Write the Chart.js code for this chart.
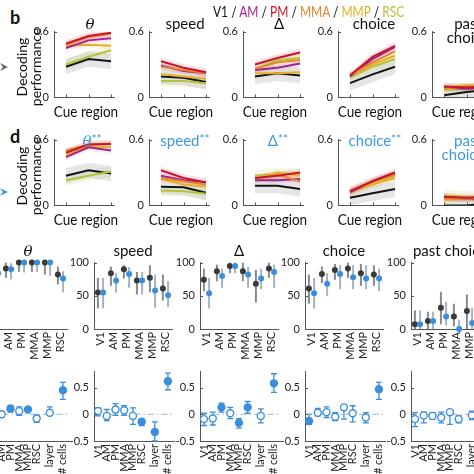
<!DOCTYPE html>
<html>
<head>
<meta charset="utf-8">
<script src="https://cdn.jsdelivr.net/npm/chart.js"></script>
<style>
  body { margin: 0; background: #fff; }
  #fig { position: relative; width: 474px; height: 474px; overflow: hidden; font-family: Lato, sans-serif; color: #111; }
  #fig canvas { position: absolute; }
  .t { position: absolute; white-space: pre; font-size: 14px; line-height: 14px; transform: translateX(-50%); text-align: center; }
  .star { font-size: 12px; vertical-align: top; line-height: 12px; }
  .th { font-family: "DejaVu Serif", serif; font-style: italic; }
</style>
</head>
<body>
<div id="fig"></div>
<script>
// areas and colours
const areas = ['V1', 'AM', 'PM', 'MMA', 'MMP', 'RSC'];
const areaColors = ['#141414', '#a3238f', '#c8152d', '#e8842c', '#e3b12a', '#b4c23c'];
const bandColors = ['rgba(140,140,140,0.22)', 'rgba(200,80,170,0.12)', 'rgba(230,90,100,0.16)',
                    'rgba(240,150,80,0.12)', 'rgba(235,190,80,0.12)', 'rgba(190,200,90,0.15)'];
const bandHalf = [0.07, 0.03, 0.035, 0.03, 0.03, 0.05];
const cuePos = [0, 1, 2];

// panel b: decoding performance along cue region, rows = V1, AM, PM, MMA, MMP, RSC
const bTheta = [[0.28, 0.35, 0.33], [0.45, 0.52, 0.54], [0.49, 0.56, 0.59], [0.48, 0.55, 0.58], [0.47, 0.48, 0.47], [0.30, 0.37, 0.43]];
const bSpeed = [[0.19, 0.18, 0.14], [0.29, 0.24, 0.22], [0.33, 0.27, 0.23], [0.28, 0.25, 0.22], [0.21, 0.19, 0.17], [0.15, 0.15, 0.13]];
const bDelta = [[0.19, 0.22, 0.20], [0.25, 0.27, 0.31], [0.30, 0.36, 0.41], [0.26, 0.32, 0.34], [0.22, 0.22, 0.23], [0.26, 0.34, 0.36]];
const bChoice = [[0.13, 0.21, 0.28], [0.19, 0.35, 0.46], [0.20, 0.37, 0.47], [0.20, 0.32, 0.42], [0.19, 0.30, 0.38], [0.18, 0.28, 0.35]];
const bPast = [[0.02, 0.05, 0.07], [0.09, 0.08, 0.09], [0.10, 0.09, 0.10], [0.08, 0.10, 0.10], [0.09, 0.11, 0.10], [0.07, 0.08, 0.09]];

// panel d
const dTheta = [[0.27, 0.32, 0.29], [0.44, 0.53, 0.50], [0.48, 0.555, 0.56], [0.50, 0.555, 0.565], [0.46, 0.54, 0.53], [0.23, 0.27, 0.31]];
const dSpeed = [[0.17, 0.165, 0.115], [0.27, 0.23, 0.21], [0.32, 0.25, 0.21], [0.25, 0.22, 0.19], [0.24, 0.19, 0.17], [0.135, 0.128, 0.107]];
const dDelta = [[0.18, 0.18, 0.15], [0.23, 0.23, 0.24], [0.25, 0.27, 0.30], [0.245, 0.28, 0.22], [0.24, 0.30, 0.27], [0.27, 0.29, 0.29]];
const dChoice = [[0.07, 0.11, 0.15], [0.12, 0.22, 0.295], [0.13, 0.22, 0.30], [0.135, 0.215, 0.28], [0.12, 0.19, 0.25], [0.125, 0.21, 0.27]];
const dPast = [[0.0, 0.0, 0.02], [0.07, 0.06, 0.05], [0.08, 0.07, 0.08], [0.06, 0.06, 0.07], [0.05, 0.06, 0.06], [0.09, 0.08, 0.08]];

// third row: [value, low, high] per area, dark and blue series
const accThetaDark = [[88, 70, 100], [91, 77, 100], [100, 86, 100], [100, 86, 100], [100, 82, 100], [82, 67, 94]];
const accThetaBlue = [[84, 65, 98], [90, 75, 99], [100, 85, 100], [100, 86, 100], [100, 80, 100], [76, 55, 87]];
const accSpeedDark = [[55, 31, 77], [84, 65, 94], [90, 76, 96], [73, 52, 86], [77, 55, 96], [61, 43, 82]];
const accSpeedBlue = [[55, 31, 77], [73, 55, 84], [83, 62, 93], [73, 52, 86], [58, 32, 82], [51, 33, 72]];
const accDeltaDark = [[74, 57, 91], [87, 72, 97], [95, 84, 100], [87, 72, 100], [68, 40, 89], [91, 77, 100]];
const accDeltaBlue = [[54, 31, 77], [80, 62, 91], [95, 84, 100], [82, 62, 94], [76, 60, 91], [86, 62, 97]];
const accChoiceDark = [[61, 38, 82], [83, 69, 94], [89, 74, 98], [91, 77, 100], [84, 65, 98], [82, 65, 96]];
const accChoiceBlue = [[54, 31, 77], [68, 50, 84], [83, 60, 96], [78, 60, 96], [76, 60, 96], [76, 57, 91]];
const accPastDark = [[7, 0, 28], [12, 0, 26], [32, 7, 56], [19, 4, 38], [27, 0, 52], [20, 0, 40]];
const accPastBlue = [[7, 0, 28], [12, 0, 26], [19, 5, 41], [0, 0, 14], [9, 0, 32], [10, 0, 30]];

// bottom row: [value, low, high]; sig = filled marker
const weightCats = ['V1', 'AM', 'PM', 'MMA', 'MMP', 'RSC', 'layer', '# cells'];
const weightPos = [0, 1, 2, 3, 4, 5, 6.5, 8];
const wTheta = [[0.02, -0.05, 0.09], [0.0, -0.05, 0.05], [0.105, 0.045, 0.165], [0.06, -0.02, 0.14], [0.09, 0.06, 0.12], [-0.08, -0.15, -0.01], [0.03, -0.02, 0.14], [0.45, 0.28, 0.6]];
const wThetaSig = [0, 0, 1, 0, 1, 0, 0, 1];
const wSpeed = [[0.06, -0.03, 0.12], [-0.03, -0.12, 0.09], [0.09, -0.02, 0.2], [0.075, -0.02, 0.16], [-0.03, -0.19, 0.12], [-0.14, -0.21, -0.09], [-0.33, -0.5, -0.14], [0.62, 0.46, 0.77]];
const wSpeedSig = [0, 0, 0, 0, 0, 1, 1, 1];
const wDelta = [[-0.09, -0.21, 0.02], [-0.08, -0.2, 0.04], [0.13, 0.04, 0.21], [0.02, -0.08, 0.13], [-0.16, -0.26, -0.08], [0.13, 0.02, 0.24], [-0.03, -0.16, 0.1], [0.58, 0.41, 0.76]];
const wDeltaSig = [0, 0, 1, 0, 1, 1, 0, 1];
const wChoice = [[-0.125, -0.19, 0], [0.03, -0.03, 0.11], [0.04, -0.06, 0.14], [-0.045, -0.12, 0.03], [0.13, -0.09, 0.17], [0.02, -0.14, 0.16], [-0.06, -0.16, 0.03], [0.47, 0.28, 0.6]];
const wChoiceSig = [1, 0, 0, 0, 0, 0, 0, 1];
const wPast = [[-0.09, -0.23, 0.03], [-0.02, -0.16, 0.04], [-0.03, -0.09, 0.03], [-0.06, -0.16, 0.04], [0.04, -0.19, 0.08], [-0.09, -0.16, -0.03], [-0.02, -0.1, 0.06], [0.1, 0, 0.2]];
const wPastSig = [0, 0, 0, 0, 0, 0, 0, 0];

const axisColor = '#555';
const blue = '#3b8ede';
const tickFont = { family: 'Lato', size: 11 };
Chart.defaults.font.family = 'Lato';

const fig = document.getElementById('fig');

function makeCanvas(left, top, w, h) {
  const c = document.createElement('canvas');
  c.width = w; c.height = h;
  c.style.left = left + 'px'; c.style.top = top + 'px';
  c.style.width = w + 'px'; c.style.height = h + 'px';
  fig.appendChild(c);
  return c;
}

function addText(html, x, y, css) {
  const d = document.createElement('div');
  d.className = 't';
  d.innerHTML = html;
  d.style.left = x + 'px';
  d.style.top = y + 'px';
  Object.assign(d.style, css || {});
  fig.appendChild(d);
  return d;
}

// squeeze a label to the width it has in the figure (the original font is narrower)
function fitWidth(d, w, origin) {
  const s = w / d.offsetWidth;
  d.style.transformOrigin = origin;
  d.style.transform = (origin === 'left center' ? '' : 'translateX(-50%) ') + 'scaleX(' + s + ')';
}

// small inward tick marks like the matlab axes
const inTicks = {
  id: 'inTicks',
  afterDraw(chart, args, opts) {
    const ctx = chart.ctx, a = chart.chartArea;
    ctx.save();
    ctx.strokeStyle = axisColor; ctx.lineWidth = 1;
    if (opts.x) {
      chart.scales.x.ticks.forEach(t => {
        const p = Math.round(chart.scales.x.getPixelForValue(t.value)) + 0.5;
        ctx.beginPath(); ctx.moveTo(p, a.bottom); ctx.lineTo(p, a.bottom - 3); ctx.stroke();
      });
    }
    chart.scales.y.ticks.forEach(t => {
      const p = Math.round(chart.scales.y.getPixelForValue(t.value)) + 0.5;
      ctx.beginPath(); ctx.moveTo(a.left, p); ctx.lineTo(a.left + 3, p); ctx.stroke();
    });
    ctx.restore();
  }
};

const errorBars = {
  id: 'errorBars',
  beforeDatasetsDraw(chart) {
    const ctx = chart.ctx, xs = chart.scales.x, ys = chart.scales.y;
    chart.data.datasets.forEach(ds => {
      if (!ds.errLo) return;
      ctx.save();
      ctx.strokeStyle = ds.errColor; ctx.lineWidth = ds.errWidth;
      ds.data.forEach((p, i) => {
        const x = xs.getPixelForValue(p.x);
        const y1 = ys.getPixelForValue(ds.errLo[i]), y2 = ys.getPixelForValue(ds.errHi[i]);
        ctx.beginPath(); ctx.moveTo(x, y1); ctx.lineTo(x, y2);
        if (ds.errCap) {
          ctx.moveTo(x - ds.errCap, y1); ctx.lineTo(x + ds.errCap, y1);
          ctx.moveTo(x - ds.errCap, y2); ctx.lineTo(x + ds.errCap, y2);
        }
        ctx.stroke();
      });
      ctx.restore();
    });
  }
};

function baseOptions(yw, xh, xScale, yScale, xTicks) {
  xScale.grid = { display: false, drawTicks: false };
  xScale.border = { color: axisColor };
  xScale.afterFit = s => { s.height = xh; };
  yScale.grid = { display: false, drawTicks: false };
  yScale.border = { color: axisColor };
  yScale.afterFit = s => { s.width = yw; };
  return {
    responsive: false, animation: false, devicePixelRatio: 1,
    layout: { autoPadding: false, padding: { top: 10, right: 12, bottom: 0, left: 0 } },
    plugins: { legend: { display: false }, tooltip: { enabled: false }, inTicks: { x: xTicks } },
    scales: { x: xScale, y: yScale }
  };
}

const lineOrder = [2, 3, 1, 4, 5, 0];

function trendPanel(axisX, plotTop, rows) {
  const cv = makeCanvas(axisX - 30, plotTop - 10, 102, 89);
  const datasets = [];
  rows.forEach((vals, a) => {
    datasets.push({ data: vals.map((v, i) => ({ x: cuePos[i], y: v - bandHalf[a] })), borderWidth: 0, pointRadius: 0, fill: false, order: 20 });
    datasets.push({ data: vals.map((v, i) => ({ x: cuePos[i], y: v + bandHalf[a] })), borderWidth: 0, pointRadius: 0, fill: '-1', backgroundColor: bandColors[a], order: 20 });
  });
  lineOrder.forEach((a, k) => {
    datasets.push({ data: rows[a].map((v, i) => ({ x: cuePos[i], y: v })), borderColor: areaColors[a], borderWidth: 2, pointRadius: 0, fill: false, tension: 0, order: k });
  });
  new Chart(cv, {
    type: 'line',
    data: { datasets },
    options: baseOptions(30, 10,
      { type: 'linear', min: -0.53, max: 2.13, afterBuildTicks: s => { s.ticks = cuePos.map(v => ({ value: v })); }, ticks: { display: false } },
      { min: 0, max: 0.6, afterBuildTicks: s => { s.ticks = [0, 0.6].map(v => ({ value: v })); },
        ticks: { font: tickFont, color: '#222', padding: 5, callback: v => String(v) } },
      true),
    plugins: [inTicks]
  });
}

function accPanel(axisX, dark, lightBlue) {
  const cv = makeCanvas(axisX - 30, 251, 120, 123);
  const idx = areas.map((_, i) => i);
  new Chart(cv, {
    type: 'scatter',
    data: {
      datasets: [
        { data: lightBlue.map((t, i) => ({ x: i + 0.2, y: t[0] })), errLo: lightBlue.map(t => t[1]), errHi: lightBlue.map(t => t[2]),
          errColor: '#a3b3c3', errWidth: 2, pointRadius: 3, pointBackgroundColor: blue, pointBorderWidth: 0, clip: false, order: 0 },
        { data: dark.map((t, i) => ({ x: i - 0.2, y: t[0] })), errLo: dark.map(t => t[1]), errHi: dark.map(t => t[2]),
          errColor: '#8a8a8a', errWidth: 2, pointRadius: 3, pointBackgroundColor: '#3a3a3a', pointBorderWidth: 0, clip: false, order: 1 }
      ]
    },
    options: baseOptions(30, 45,
      { type: 'linear', min: -0.5, max: 5.5, afterBuildTicks: s => { s.ticks = idx.map(v => ({ value: v })); },
        ticks: { font: tickFont, color: '#222', padding: 3, minRotation: 90, maxRotation: 90, autoSkip: false, callback: (v, i) => areas[i] } },
      { min: 0, max: 100, afterBuildTicks: s => { s.ticks = [0, 50, 100].map(v => ({ value: v })); },
        ticks: { font: tickFont, color: '#222', padding: 5 } },
      false),
    plugins: [inTicks, errorBars]
  });
}

function weightPanel(axisX, vals, sig) {
  const cv = makeCanvas(axisX - 32, 360, 124, 123);
  new Chart(cv, {
    type: 'scatter',
    data: {
      datasets: [
        { data: vals.map((t, i) => ({ x: weightPos[i], y: t[0] })), errLo: vals.map(t => t[1]), errHi: vals.map(t => t[2]),
          errColor: blue, errWidth: 1.3, errCap: 3, pointRadius: 3.5,
          pointBackgroundColor: sig.map(s => s ? blue : '#fff'), pointBorderColor: blue, pointBorderWidth: 1.4, clip: false, order: 0 },
        { type: 'line', data: [{ x: -0.46, y: 0 }, { x: 8.7, y: 0 }], borderColor: '#9db4c6', borderWidth: 1,
          borderDash: [6, 3, 1.5, 3], pointRadius: 0, order: 5 }
      ]
    },
    options: baseOptions(32, 42,
      { type: 'linear', min: -0.46, max: 8.7, afterBuildTicks: s => { s.ticks = weightPos.map(v => ({ value: v })); },
        ticks: { font: tickFont, color: '#222', padding: 3, minRotation: 90, maxRotation: 90, autoSkip: false, callback: (v, i) => weightCats[i] } },
      { min: -0.5, max: 0.8, afterBuildTicks: s => { s.ticks = [-0.5, 0, 0.5].map(v => ({ value: v })); },
        ticks: { font: tickFont, color: '#222', padding: 5, callback: v => String(v) } },
      false),
    plugins: [inTicks, errorBars]
  });
}

// layout
const topAxes = [54, 149, 243, 338, 432];
const lowAxes = [-11, 94, 200, 305, 411];

[bTheta, bSpeed, bDelta, bChoice, bPast].forEach((rows, k) => trendPanel(topAxes[k], 30, rows));
[dTheta, dSpeed, dDelta, dChoice, dPast].forEach((rows, k) => trendPanel(topAxes[k], 138, rows));
[[accThetaDark, accThetaBlue], [accSpeedDark, accSpeedBlue], [accDeltaDark, accDeltaBlue],
 [accChoiceDark, accChoiceBlue], [accPastDark, accPastBlue]].forEach((p, k) => accPanel(lowAxes[k], p[0], p[1]));
[[wTheta, wThetaSig], [wSpeed, wSpeedSig], [wDelta, wDeltaSig], [wChoice, wChoiceSig], [wPast, wPastSig]]
  .forEach((p, k) => weightPanel(lowAxes[k], p[0], p[1]));

// text
const lightBlueText = '#3d9ade';
const legendDiv = addText(areas.map((a, i) => '<span style="color:' + areaColors[i] + '">' + a + '</span>').join(' / '), 213, 4,
  { transform: 'none', textAlign: 'left', fontSize: '15px', lineHeight: '15px' });
fitWidth(legendDiv, 191, 'left center');
addText('b', 15, 8, { fontWeight: 'bold', fontSize: '18px', lineHeight: '18px' });
addText('d', 15, 127, { fontWeight: 'bold', fontSize: '18px', lineHeight: '18px' });
addText('Decoding\nperformance', 29, 67, { transform: 'translate(-50%, -50%) rotate(-90deg)', fontSize: '14px', lineHeight: '14px' });
addText('Decoding\nperformance', 29, 176, { transform: 'translate(-50%, -50%) rotate(-90deg)', fontSize: '14px', lineHeight: '14px' });

const topTitles = ['<span class="th">θ</span>', 'speed', 'Δ', 'choice', 'past\nchoice'];
const topTitleX = [90, 185, 279, 374, 468];
topTitles.forEach((t, k) => addText(t, topTitleX[k], 16, { fontSize: '15px', lineHeight: '14px' }));
const dTitles = ['<span class="th">θ</span><span class="star">**</span>', 'speed<span class="star">**</span>',
                 'Δ<span class="star">**</span>', 'choice<span class="star">**</span>', 'past\nchoice<span class="star">**</span>'];
const dTitleX = [92, 185, 278, 375, 468];
dTitles.forEach((t, k) => addText(t, dTitleX[k], 133, { fontSize: '15px', lineHeight: '14px', color: lightBlueText }));
topAxes.forEach(x => {
  fitWidth(addText('Cue region', x + 32, 104, { fontSize: '15px' }), 64, 'center');
  fitWidth(addText('Cue region', x + 32, 212, { fontSize: '15px' }), 64, 'center');
});
const lowTitles = ['<span class="th">θ</span>', 'speed', 'Δ', 'choice', 'past choice'];
lowAxes.forEach((x, k) => addText(lowTitles[k], x + 39, 243, { fontSize: '15px' }));

// arrow markers on the left edge
function arrow(y, color) {
  const d = document.createElement('div');
  Object.assign(d.style, { position: 'absolute', left: '0px', top: (y - 4) + 'px', width: '8px', height: '8px', background: color,
    clipPath: 'polygon(0 0, 100% 50%, 0 100%, 35% 50%)' });
  fig.appendChild(d);
}
arrow(67, '#666');
arrow(192, lightBlueText);
</script>
</body>
</html>
